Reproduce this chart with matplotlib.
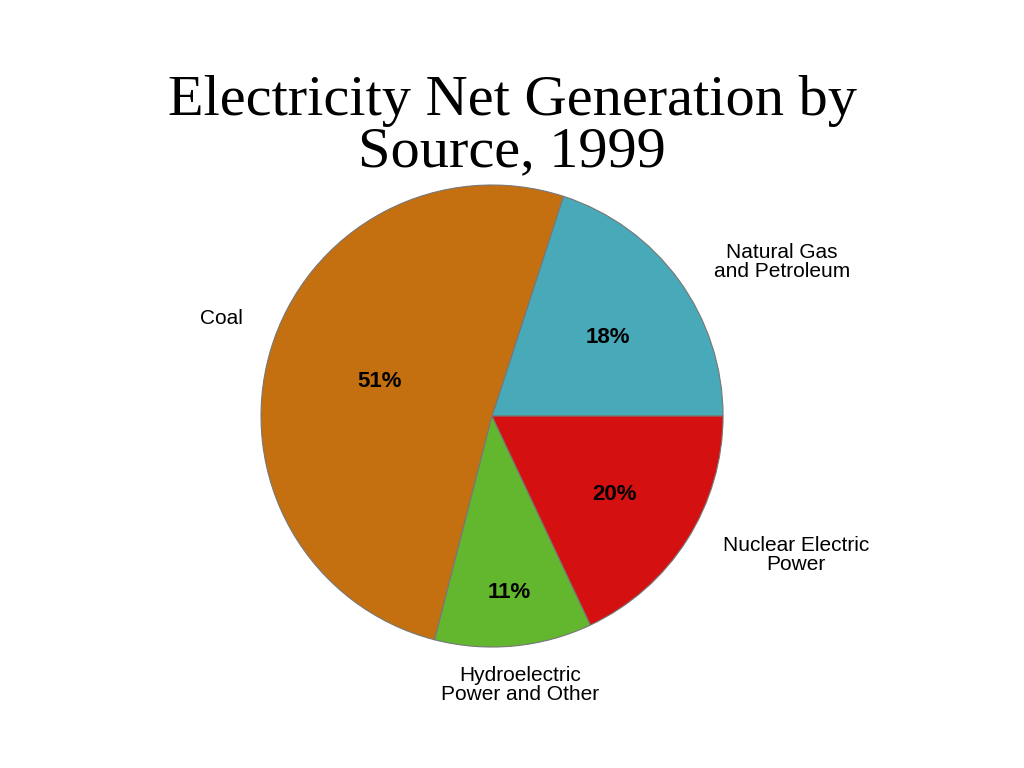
import matplotlib.pyplot as plt

# wedge sizes as drawn (counterclockwise from 3 o'clock)
sources = ['Natural Gas\nand Petroleum', 'Coal', 'Hydroelectric\nPower and Other', 'Nuclear Electric\nPower']
sizes = [20, 51, 11, 18]
pct_labels = ['18%', '51%', '11%', '20%']
colors = ['#48A9B8', '#C47010', '#62B72E', '#D51010']

pct_pos = [(0.50, 0.34), (-0.485, 0.15), (0.074, -0.766), (0.528, -0.338)]
name_pos = [(1.255, 0.667), (-1.17, 0.424), (0.121, -1.165), (1.316, -0.602)]

fig = plt.figure(figsize=(10.24, 7.68), dpi=100)
ax = fig.add_axes([0.4805 - 0.2256, 0.4583 - 0.3008, 0.4512, 0.6016])
ax.pie(sizes, colors=colors, startangle=0, counterclock=True,
       wedgeprops=dict(edgecolor='#777777', linewidth=0.8))
ax.set_xlim(-1, 1)
ax.set_ylim(-1, 1)
ax.set_aspect('equal')
ax.axis('off')

for (x, y), t in zip(pct_pos, pct_labels):
    ax.text(x, y, t, ha='center', va='center', fontsize=16, fontweight='bold',
            family='Liberation Sans')
for (x, y), t in zip(name_pos, sources):
    ax.text(x, y, t, ha='center', va='center', fontsize=15, family='Liberation Sans',
            linespacing=1.0, clip_on=False)

fig.text(0.5, 0.835, 'Electricity Net Generation by\nSource, 1999', ha='center', va='center',
         fontsize=42, family='Liberation Serif', linespacing=1.0)

fig.savefig('out.png', dpi=100)
